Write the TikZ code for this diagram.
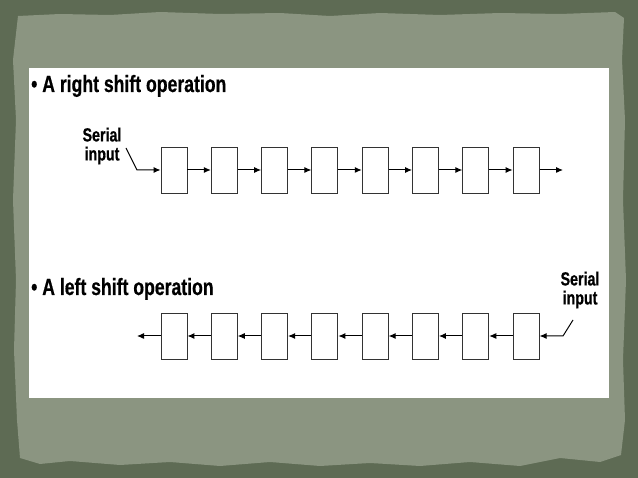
\documentclass[tikz,border=0pt]{standalone}
\usepackage{fontspec}
\usepackage{tikz}
\usetikzlibrary{shapes,arrows,arrows.meta}
\newfontfamily\slidefont[FakeStretch=0.75,FakeBold=0.6]{Liberation Sans}
\definecolor{framegreen}{RGB}{94,107,84}
\definecolor{papergreen}{RGB}{139,149,129}
\tikzstyle{reg} = [rectangle, draw=black!80, line width=0.9pt, fill=white,
minimum width=26pt, minimum height=46pt, inner sep=0pt]
\tikzstyle{line} = [draw, line width=1pt, -{Latex[length=7pt,width=6pt]}]
\tikzstyle{heading} = [anchor=base west, inner sep=0pt, font=\slidefont\bfseries\fontsize{23.5}{26}\selectfont]
\tikzstyle{tag} = [align=center, inner sep=0pt, font=\slidefont\bfseries\fontsize{19}{19}\selectfont]

\begin{document}
\begin{tikzpicture}[x=1pt, y=-1pt, node distance = 50.3pt]
\useasboundingbox (0,0) rectangle (638,478);
% Background
\fill[framegreen] (0,0) rectangle (638,478);
\fill[papergreen] (18,16) -- (60,14) -- (110,15) -- (160,12) -- (220,14) -- (280,13)
  -- (330,16) -- (380,13) -- (440,15) -- (500,13) -- (560,14) -- (615,12)
  -- (624,18) -- (622,60) -- (625,120) -- (623,200) -- (626,280) -- (623,360)
  -- (625,420) -- (621,455) -- (600,462) -- (560,458) -- (520,466) -- (470,462)
  -- (420,466) -- (370,463) -- (320,466) -- (270,462) -- (220,466) -- (170,462)
  -- (120,465) -- (70,461) -- (40,464) -- (20,458) -- (17,420) -- (14,350)
  -- (16,280) -- (13,200) -- (16,120) -- (13,60) -- cycle;
\fill[white] (29,68) rectangle (609,398);

% Right shift
\node [heading] (righttitle) at (31,92) {• A right shift operation};
\node [tag] (rtag) at (102,146) {Serial\\input};
\node [reg] (r1) at (174,170) {};
\node [reg, right of=r1] (r2) {};
\node [reg, right of=r2] (r3) {};
\node [reg, right of=r3] (r4) {};
\node [reg, right of=r4] (r5) {};
\node [reg, right of=r5] (r6) {};
\node [reg, right of=r6] (r7) {};
\node [reg, right of=r7] (r8) {};
\coordinate (rtail) at (126,148);
\coordinate (rkink) at (137,170);
\coordinate (rout) at (563,170);
\path [line] (rtail) -- (rkink) -- (r1);
\path [line] (r1) -- (r2);
\path [line] (r2) -- (r3);
\path [line] (r3) -- (r4);
\path [line] (r4) -- (r5);
\path [line] (r5) -- (r6);
\path [line] (r6) -- (r7);
\path [line] (r7) -- (r8);
\path [line] (r8) -- (rout);

% Left shift
\node [heading] (lefttitle) at (31,295) {• A left shift operation};
\node [tag] (ltag) at (580,290) {Serial\\input};
\node [reg] (l1) at (174,336) {};
\node [reg, right of=l1] (l2) {};
\node [reg, right of=l2] (l3) {};
\node [reg, right of=l3] (l4) {};
\node [reg, right of=l4] (l5) {};
\node [reg, right of=l5] (l6) {};
\node [reg, right of=l6] (l7) {};
\node [reg, right of=l7] (l8) {};
\coordinate (ltail) at (573,320);
\coordinate (lkink) at (563,336);
\coordinate (lout) at (137,336);
\path [line] (ltail) -- (lkink) -- (l8);
\path [line] (l8) -- (l7);
\path [line] (l7) -- (l6);
\path [line] (l6) -- (l5);
\path [line] (l5) -- (l4);
\path [line] (l4) -- (l3);
\path [line] (l3) -- (l2);
\path [line] (l2) -- (l1);
\path [line] (l1) -- (lout);
\end{tikzpicture}
\end{document}
